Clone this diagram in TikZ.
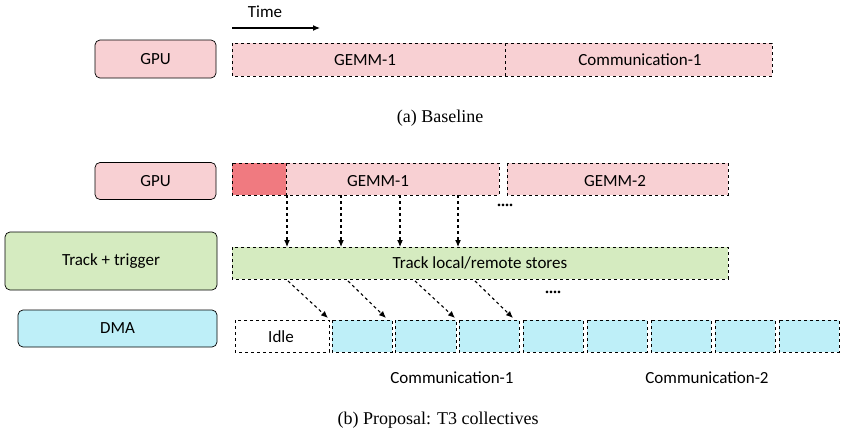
\documentclass[tikz,border=0pt]{standalone}
\usepackage{fontspec}
\usetikzlibrary{arrows.meta}
\setmainfont{Liberation Serif}
\newfontfamily\carl{Carlito}
\begin{document}
\begin{tikzpicture}[x=1pt,y=-1pt,
 lbl/.style={draw,rounded corners=5pt,line width=0.7pt,font=\carl\fontsize{17}{17}\selectfont},
 bar/.style={draw,dashed,line width=0.6pt},
 tx/.style={font=\carl\fontsize{17}{17}\selectfont},
 captext/.style={font=\fontsize{18}{18}\selectfont},
 arr/.style={dashed,line width=1.1pt,-{Latex[length=7pt,width=6pt]}}]
\useasboundingbox (0,0) rectangle (842,439);
\definecolor{pk}{HTML}{F8D0D3}\definecolor{rd}{HTML}{F07A80}
\definecolor{gr}{HTML}{D5EBC0}\definecolor{cy}{HTML}{BEEFF8}
% (a)
\node[tx] (time) at (265,12) {Time};
\coordinate (t0) at (232,28); \coordinate (t1) at (320,28);
\draw[line width=1.1pt,-{Latex[length=7pt,width=6pt]}] (t0) -- (t1);
\node[lbl,fill=pk,minimum width=121pt,minimum height=38pt] (gpua) at (155.5,59) {GPU};
\draw[bar,fill=pk] (232,43) rectangle (772,76);
\draw[dashed,line width=0.6pt] (505,43) -- (505,76);
\node[tx] (g1a) at (365,60) {GEMM-1};
\node[tx] (c1a) at (640,60) {Communication-1};
\node[captext] (capa) at (440,118) {(a) Baseline};
% (b)
\node[lbl,fill=pk,minimum width=121pt,minimum height=37pt] (gpub) at (155.5,181) {GPU};
\draw[bar,fill=rd] (232,163) rectangle (286,195);
\draw[bar,fill=pk] (286,163) rectangle (499,195);
\draw[bar,fill=pk] (507,163) rectangle (728,195);
\node[tx] (g1b) at (378,181) {GEMM-1};
\node[tx] (g2b) at (615,181) {GEMM-2};
\node[lbl,fill=gr,minimum width=212pt,minimum height=58pt] (tt) at (111,261) {Track + trigger};
\draw[bar,fill=gr] (232,247) rectangle (728,279);
\node[tx] (tr) at (480,263) {Track local/remote stores};
\foreach \x in {287,341,400,458}{
 \coordinate (a\x) at (\x,195); \coordinate (b\x) at (\x,247);
 \draw[arr] (a\x) -- (b\x);}
\foreach \s/\e in {288/328,348/386,415/455,475/513}{
 \coordinate (s\s) at (\s,281); \coordinate (e\s) at (\e,318);
 \draw[arr] (s\s) -- (e\s);}
\node[font=\bfseries\fontsize{16}{16}\selectfont] (d1) at (505,205) {....};
\node[font=\bfseries\fontsize{16}{16}\selectfont] (d2) at (553,292) {....};
\node[lbl,fill=cy,minimum width=199pt,minimum height=37pt] (dma) at (117.5,328.5) {DMA};
\draw[bar] (235,320) rectangle (329,352);
\node[tx] (idle) at (281,337) {Idle};
\foreach \a/\b in {332/392,395/456,459/519,523/583,587/647,651/711,715/775,779/839}
 \draw[bar,fill=cy] (\a,320) rectangle (\b,352);
\node[tx] (c1) at (452,378) {Communication-1};
\node[tx] (c2) at (707,378) {Communication-2};
\node[captext] (capb) at (438,420) {(b) Proposal: T3 collectives};
\end{tikzpicture}
\end{document}
